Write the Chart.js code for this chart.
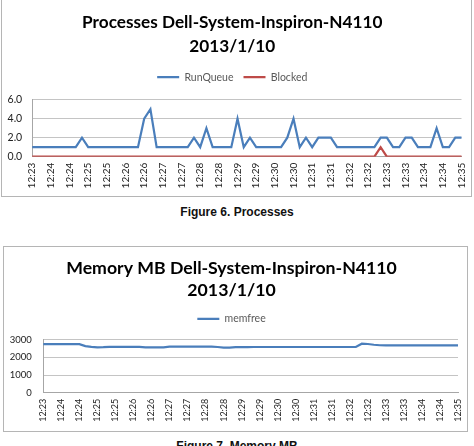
<!DOCTYPE html>
<html>
<head>
<meta charset="utf-8">
<script src="https://cdn.jsdelivr.net/npm/chart.js@4.4.1/dist/chart.umd.min.js"></script>
<style>
  html, body { margin: 0; padding: 0; background: #fff; width: 474px; height: 446px; overflow: hidden; position: relative; }
  .moldura { position: absolute; border: 1px solid #b5b5b5; box-sizing: border-box; }
  canvas { position: absolute; }
  .legenda-figura { position: absolute; left: 0; width: 474px; text-align: center; font: bold 12px "Liberation Sans", Arial, sans-serif; color: #111; line-height: 14px; }
</style>
</head>
<body>
<div class="moldura" style="left:1px;top:-3px;width:471px;height:200px"></div>
<canvas id="graficoProcessos" style="left:3px;top:0px" width="466" height="194"></canvas>
<div class="legenda-figura" style="top:205px">Figure 6. Processes</div>

<div class="moldura" style="left:3px;top:246px;width:465px;height:186px"></div>
<canvas id="graficoMemoria" style="left:5px;top:248px" width="461" height="182"></canvas>
<div class="legenda-figura" style="top:439px">Figure 7. Memory MB</div>

<script>
// Rótulos do eixo X (uma amostra a cada ~10 s, exibidos de 3 em 3)
const rotulosTempo = [
  "12:23", "12:23", "12:23",
  "12:24", "12:24", "12:24", "12:24", "12:24", "12:24",
  "12:25", "12:25", "12:25", "12:25", "12:25", "12:25",
  "12:26", "12:26", "12:26", "12:26", "12:26", "12:26",
  "12:27", "12:27", "12:27", "12:27", "12:27", "12:27",
  "12:28", "12:28", "12:28", "12:28", "12:28", "12:28",
  "12:29", "12:29", "12:29", "12:29", "12:29", "12:29",
  "12:30", "12:30", "12:30", "12:30", "12:30", "12:30",
  "12:31", "12:31", "12:31", "12:31", "12:31", "12:31",
  "12:32", "12:32", "12:32", "12:32", "12:32", "12:32",
  "12:33", "12:33", "12:33", "12:33", "12:33", "12:33",
  "12:34", "12:34", "12:34", "12:34", "12:34", "12:34",
  "12:35"
];

// Série RunQueue (processos)
const runQueue = [
  1, 1, 1, 1, 1, 1, 1, 1, 2, 1,
  1, 1, 1, 1, 1, 1, 1, 1, 4, 5,
  1, 1, 1, 1, 1, 1, 2, 1, 3, 1,
  1, 1, 1, 4, 1, 2, 1, 1, 1, 1,
  1, 2, 4, 1, 2, 1, 2, 2, 2, 1,
  1, 1, 1, 1, 1, 1, 2, 2, 1, 1,
  2, 2, 1, 1, 1, 3, 1, 1, 2, 2
];

// Série Blocked (processos)
const blocked = [
  0, 0, 0, 0, 0, 0, 0, 0, 0, 0,
  0, 0, 0, 0, 0, 0, 0, 0, 0, 0,
  0, 0, 0, 0, 0, 0, 0, 0, 0, 0,
  0, 0, 0, 0, 0, 0, 0, 0, 0, 0,
  0, 0, 0, 0, 0, 0, 0, 0, 0, 0,
  0, 0, 0, 0, 0, 0, 1, 0, 0, 0,
  0, 0, 0, 0, 0, 0, 0, 0, 0, 0
];

// Série memfree (MB)
const memfree = [
  2750, 2750, 2750, 2750, 2750, 2750, 2750, 2640, 2600, 2570,
  2580, 2600, 2600, 2600, 2600, 2600, 2600, 2570, 2570, 2570,
  2570, 2610, 2610, 2610, 2610, 2610, 2610, 2610, 2610, 2590,
  2560, 2560, 2580, 2580, 2580, 2590, 2590, 2590, 2590, 2590,
  2590, 2590, 2590, 2590, 2590, 2590, 2590, 2590, 2590, 2590,
  2590, 2590, 2590, 2780, 2760, 2720, 2690, 2680, 2680, 2680,
  2680, 2680, 2680, 2680, 2680, 2680, 2680, 2680, 2680, 2680
];

const FONTE = "Lato, 'Open Sans', sans-serif";
const AZUL = "#4A7EBB";
const VERMELHO = "#BE4B48";
const COR_GRADE = "#C4C4C4";
const COR_EIXO = "#A6A6A6";

document.addEventListener("DOMContentLoaded", () => {
  // Gráfico 1: processos
  const ctx1 = document.getElementById("graficoProcessos");
  new Chart(ctx1.getContext("2d"), {
    type: "line",
    data: {
      labels: rotulosTempo,
      datasets: [
        { label: "RunQueue", data: runQueue, borderColor: AZUL, backgroundColor: AZUL,
          borderWidth: 2.2, pointRadius: 0, tension: 0, fill: false },
        { label: "Blocked", data: blocked, borderColor: VERMELHO, backgroundColor: VERMELHO,
          borderWidth: 2.2, pointRadius: 0, tension: 0, fill: false }
      ]
    },
    options: {
      responsive: false,
      animation: false,
      layout: { padding: { left: 0, right: 7.5, top: 0, bottom: 0 } },
      scales: {
        x: {
          ticks: {
            autoSkip: false, minRotation: 90, maxRotation: 90, padding: 6,
            color: "#222", font: { family: FONTE, size: 10 },
            callback: function(valor, i) { return i % 3 === 0 ? this.getLabelForValue(valor) : null; }
          },
          grid: { display: false, drawTicks: false },
          border: { color: COR_EIXO },
          afterFit: (e) => { e.height = 37.3; e.paddingLeft = 0; e.paddingRight = 0; }
        },
        xTopo: { // espaço entre a legenda e a área do gráfico
          type: "category", position: "top",
          grid: { display: false, drawTicks: false }, border: { display: false }, ticks: { display: false },
          afterFit: (e) => { e.height = 7.3; e.paddingLeft = 0; e.paddingRight = 0; }
        },
        y: {
          min: 0, max: 6,
          ticks: { stepSize: 2, padding: 10, color: "#222", font: { family: FONTE, size: 10.5 },
                   callback: (v) => v.toFixed(1) },
          grid: { color: COR_GRADE, drawTicks: false },
          border: { color: COR_EIXO },
          afterFit: (e) => { e.width = 29.2; e.paddingTop = 0; e.paddingBottom = 0; }
        }
      },
      plugins: {
        title: {
          display: true,
          text: ["Processes Dell-System-Inspiron-N4110", "2013/1/10"],
          color: "#000",
          font: { family: FONTE, size: 17.2, weight: "bold", lineHeight: 1.41 },
          padding: { top: 10, bottom: 3.4 }
        },
        legend: {
          display: true,
          position: "top",
          labels: { usePointStyle: true, pointStyle: "line", pointStyleWidth: 22,
                    color: "#595959", font: { family: FONTE, size: 10.5 }, padding: 10 }
        },
        tooltip: { enabled: false }
      }
    }
  });

  // Gráfico 2: memória
  const ctx2 = document.getElementById("graficoMemoria");
  new Chart(ctx2.getContext("2d"), {
    type: "line",
    data: {
      labels: rotulosTempo,
      datasets: [
        { label: "memfree", data: memfree, borderColor: AZUL, backgroundColor: AZUL,
          borderWidth: 2.2, pointRadius: 0, tension: 0, fill: false }
      ]
    },
    options: {
      responsive: false,
      animation: false,
      layout: { padding: { left: 0, right: 8, top: 0, bottom: 0 } },
      scales: {
        x: {
          ticks: {
            autoSkip: false, minRotation: 90, maxRotation: 90, padding: 6,
            color: "#222", font: { family: FONTE, size: 9 },
            callback: function(valor, i) { return i % 3 === 0 ? this.getLabelForValue(valor) : null; }
          },
          grid: { display: false, drawTicks: false },
          border: { color: COR_EIXO },
          afterFit: (e) => { e.height = 37.3; e.paddingLeft = 0; e.paddingRight = 0; }
        },
        xTopo: {
          type: "category", position: "top",
          grid: { display: false, drawTicks: false }, border: { display: false }, ticks: { display: false },
          afterFit: (e) => { e.height = 5.75; e.paddingLeft = 0; e.paddingRight = 0; }
        },
        y: {
          min: 0, max: 3000,
          ticks: { stepSize: 1000, padding: 11.5, color: "#222", font: { family: FONTE, size: 9.5 },
                   callback: (v) => String(v) },
          grid: { color: COR_GRADE, drawTicks: false },
          border: { color: COR_EIXO },
          afterFit: (e) => { e.width = 38.3; e.paddingTop = 0; e.paddingBottom = 0; }
        }
      },
      plugins: {
        title: {
          display: true,
          text: ["Memory MB Dell-System-Inspiron-N4110", "2013/1/10"],
          color: "#000",
          font: { family: FONTE, size: 17.7, weight: "bold", lineHeight: 1.22 },
          padding: { top: 9.45, bottom: 2.9 }
        },
        legend: {
          display: true,
          position: "top",
          labels: { usePointStyle: true, pointStyle: "line", pointStyleWidth: 22,
                    color: "#595959", font: { family: FONTE, size: 10.5 }, padding: 10 }
        },
        tooltip: { enabled: false }
      }
    }
  });
});
</script>
</body>
</html>
